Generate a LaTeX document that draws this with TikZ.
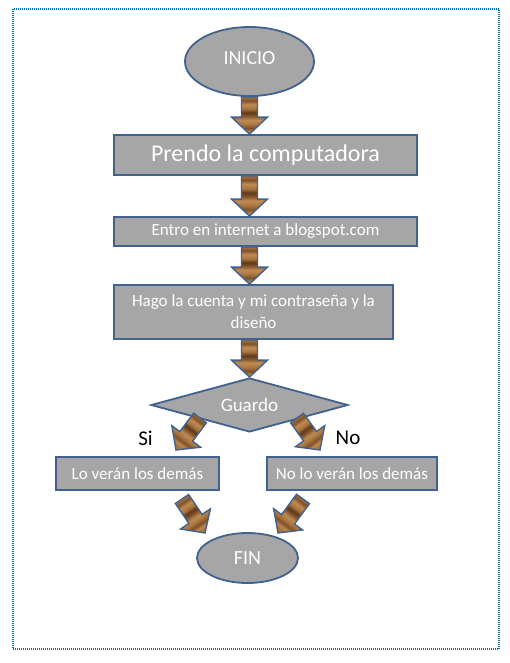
\documentclass[tikz,border=0pt]{standalone}
\usepackage{fontspec}
\setmainfont{Carlito}
\usetikzlibrary{shapes.geometric,calc}
\definecolor{boxgray}{HTML}{A6A6A6}
\definecolor{edgeblue}{HTML}{41628E}
\definecolor{frameblue}{HTML}{0070C0}
\definecolor{wA}{HTML}{A8743F}
\definecolor{wB}{HTML}{7E5128}
\definecolor{wC}{HTML}{C08A52}
\definecolor{wD}{HTML}{5E3A1A}
\pgfdeclarehorizontalshading{wood}{100bp}{color(0bp)=(wA); color(25bp)=(wA); color(30bp)=(wB); color(35bp)=(wC); color(41bp)=(wA); color(46bp)=(wD); color(50bp)=(wB); color(56bp)=(wC); color(62bp)=(wA); color(67bp)=(wB); color(72bp)=(wC); color(75bp)=(wA); color(100bp)=(wA)}
\tikzset{
  shapebox/.style={draw=edgeblue, line width=1.8pt, fill=boxgray, text=white, inner sep=0pt, align=center},
  procbox/.style={shapebox, rectangle},
  ovalbox/.style={shapebox, ellipse},
  decbox/.style={shapebox, diamond, shape aspect=3.65},
  woodarrow/.style={draw=edgeblue, line width=1.4pt, shading=wood, line join=miter},
  branchlbl/.style={text=black, font=\fontsize{21}{24}\selectfont}
}
\newcommand\blockarr[2]{%
  \path let \p1=(#1), \p2=(#2) in \pgfextra{%
    \pgfmathsetmacro\baang{atan2(\y2-\y1,\x2-\x1)}%
    \pgfmathsetmacro\balen{veclen(\x2-\x1,\y2-\y1)}%
    \xdef\baang{\baang}\xdef\balen{\balen}\xdef\bax{\x1}\xdef\bay{\y1}};
  \draw[woodarrow, shading angle=\baang, shift={(\bax,\bay)}, rotate=\baang]
    (0pt,-8pt) -- (\balen pt-17pt,-8pt) -- (\balen pt-17pt,-18pt) -- (\balen pt,0pt)
    -- (\balen pt-17pt,18pt) -- (\balen pt-17pt,8pt) -- (0pt,8pt) -- cycle;
}
\begin{document}
\begin{tikzpicture}[x=1pt,y=1pt]
\useasboundingbox (0,0) rectangle (510,-663);
\draw[frameblue, line width=1.2pt, dash pattern=on 1pt off 1pt] (13,-9) rectangle (499,-649);

\node[ovalbox, minimum width=129, minimum height=69, font=\fontsize{20}{24}\selectfont] (ini) at (249.5,-61.5) {\raisebox{7pt}{INICIO}};
\node[procbox, minimum width=303, minimum height=40, font=\fontsize{24}{28}\selectfont] (b2) at (265.5,-155) {Prendo la computadora};
\node[procbox, minimum width=303, minimum height=29, font=\fontsize{17}{20}\selectfont] (b3) at (265.5,-231.5) {Entro en internet a blogspot.com};
\node[procbox, minimum width=279, minimum height=54, font=\fontsize{17}{22}\selectfont] (b4) at (253.5,-312) {Hago la cuenta y mi contraseña y la\\diseño};
\node[decbox, minimum width=197, minimum height=54, font=\fontsize{19}{22}\selectfont] (dec) at (249.5,-405) {\raisebox{-3pt}{Guardo}};
\node[procbox, minimum width=163, minimum height=33, font=\fontsize{17}{20}\selectfont] (si) at (137.5,-473.5) {Lo verán los demás};
\node[procbox, minimum width=170, minimum height=33, font=\fontsize{17}{20}\selectfont] (no) at (352,-473.5) {No lo verán los demás};
\node[ovalbox, minimum width=101, minimum height=50, font=\fontsize{20}{24}\selectfont] (fin) at (247.5,-558) {FIN};

\node[branchlbl] (lsi) at (145.5,-438) {Si};
\node[branchlbl] (lno) at (348,-438) {No};

\coordinate (dls) at (200,-418);
\coordinate (dlt) at (176,-450);
\coordinate (drs) at (297,-418);
\coordinate (drt) at (320,-450);
\coordinate (fls) at (182,-499);
\coordinate (flt) at (205,-533);
\coordinate (frs) at (303,-499);
\coordinate (frt) at (278,-533);

\blockarr{ini.south}{ini.south |- b2.north}
\blockarr{ini.south |- b2.south}{ini.south |- b3.north}
\blockarr{ini.south |- b3.south}{ini.south |- b4.north}
\blockarr{ini.south |- b4.south}{ini.south |- dec.north}
\blockarr{dls}{dlt}
\blockarr{drs}{drt}
\blockarr{fls}{flt}
\blockarr{frs}{frt}
\end{tikzpicture}
\end{document}
